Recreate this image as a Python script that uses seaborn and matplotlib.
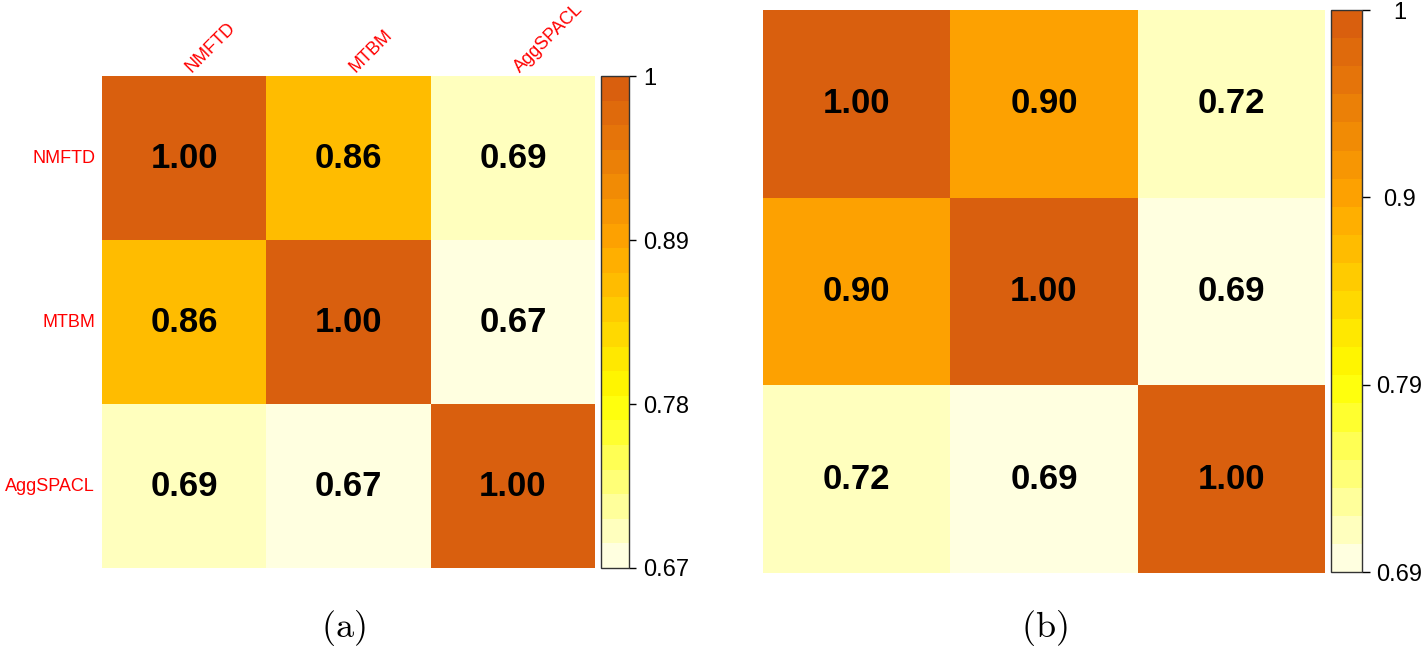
import matplotlib
matplotlib.use('Agg')
import matplotlib.pyplot as plt
import matplotlib.transforms as mtransforms
import numpy as np
import pandas as pd
import seaborn as sns
from matplotlib.colors import LinearSegmentedColormap, ListedColormap


methods = ['NMFTD', 'MTBM', 'AggSPACL']
corr_a = [[1.00, 0.86, 0.69],
          [0.86, 1.00, 0.67],
          [0.69, 0.67, 1.00]]
corr_b = [[1.00, 0.90, 0.72],
          [0.90, 1.00, 0.69],
          [0.72, 0.69, 1.00]]
ramp_colors = ['#FFFFE0', '#FFFF00', '#FFA500', '#D95F0E']
n_levels = 20
captions = ['(a)', '(b)']


def heat_cmap():
    ramp = LinearSegmentedColormap.from_list('heat', ramp_colors)
    return ListedColormap(ramp(np.linspace(0, 1, n_levels)))


def draw_panel(fig, ax, cax, values, show_labels, center_ticks=False):
    df = pd.DataFrame(values, index=methods, columns=methods)
    vmin, vmax = df.values.min(), df.values.max()
    sns.heatmap(df, ax=ax, cbar_ax=cax, cmap=heat_cmap(), vmin=vmin, vmax=vmax,
                annot=True, fmt='.2f',
                annot_kws=dict(size=25, weight='bold', color='black'),
                xticklabels=show_labels, yticklabels=show_labels)

    if show_labels:
        ax.xaxis.tick_top()
        ax.set_xticklabels(methods, rotation=45, ha='left', va='baseline',
                           rotation_mode='anchor', color='red', fontsize=13)
        ax.set_yticklabels(methods, rotation=0, color='red', fontsize=13)
        ax.tick_params(axis='x', length=0, pad=2)
        ax.tick_params(axis='y', length=0, pad=5)
        # nudge rotated labels a little to the right
        shift = mtransforms.ScaledTranslation(5 / 72, 0, fig.dpi_scale_trans)
        for lab in ax.get_xticklabels():
            lab.set_transform(lab.get_transform() + shift)
    ax.set_xlabel('')
    ax.set_ylabel('')

    # colorbar: 4 evenly spaced ticks, R-style labels
    cbar = ax.collections[0].colorbar
    ticks = [vmin + k * (vmax - vmin) / 3 for k in range(4)]
    cbar.set_ticks(ticks)
    cbar.set_ticklabels([f'{t:.2g}' for t in ticks])
    cbar.outline.set_linewidth(1.0)
    cbar.outline.set_edgecolor('#333333')
    if center_ticks:
        cax.tick_params(length=6, width=1, labelsize=17, pad=21, colors='black')
        for lab in cax.get_yticklabels():
            lab.set_ha('center')
    else:
        cax.tick_params(length=5, width=1, labelsize=17, pad=5, colors='black')


def main():
    sns.set_style('white', {'text.color': 'black', 'xtick.color': 'black',
                            'ytick.color': 'black'})
    plt.rcParams['font.family'] = ['Liberation Sans', 'DejaVu Sans']
    plt.rcParams['mathtext.fontset'] = 'cm'

    fig = plt.figure(figsize=(14.25, 6.61), dpi=100)
    ax_a = fig.add_axes([0.0716, 0.1407, 0.3460, 0.7443])
    cax_a = fig.add_axes([0.4218, 0.1407, 0.0197, 0.7443])
    ax_b = fig.add_axes([0.5354, 0.1331, 0.3944, 0.8517])
    cax_b = fig.add_axes([0.9340, 0.1346, 0.0218, 0.8502])

    draw_panel(fig, ax_a, cax_a, corr_a, True)
    draw_panel(fig, ax_b, cax_b, corr_b, False, center_ticks=True)

    fig.text(0.241, 0.05, r'$\mathrm{' + captions[0] + '}$', ha='center', va='center', fontsize=26)
    fig.text(0.733, 0.05, r'$\mathrm{' + captions[1] + '}$', ha='center', va='center', fontsize=26)

    fig.savefig('out.png', dpi=100)


if __name__ == '__main__':
    main()
